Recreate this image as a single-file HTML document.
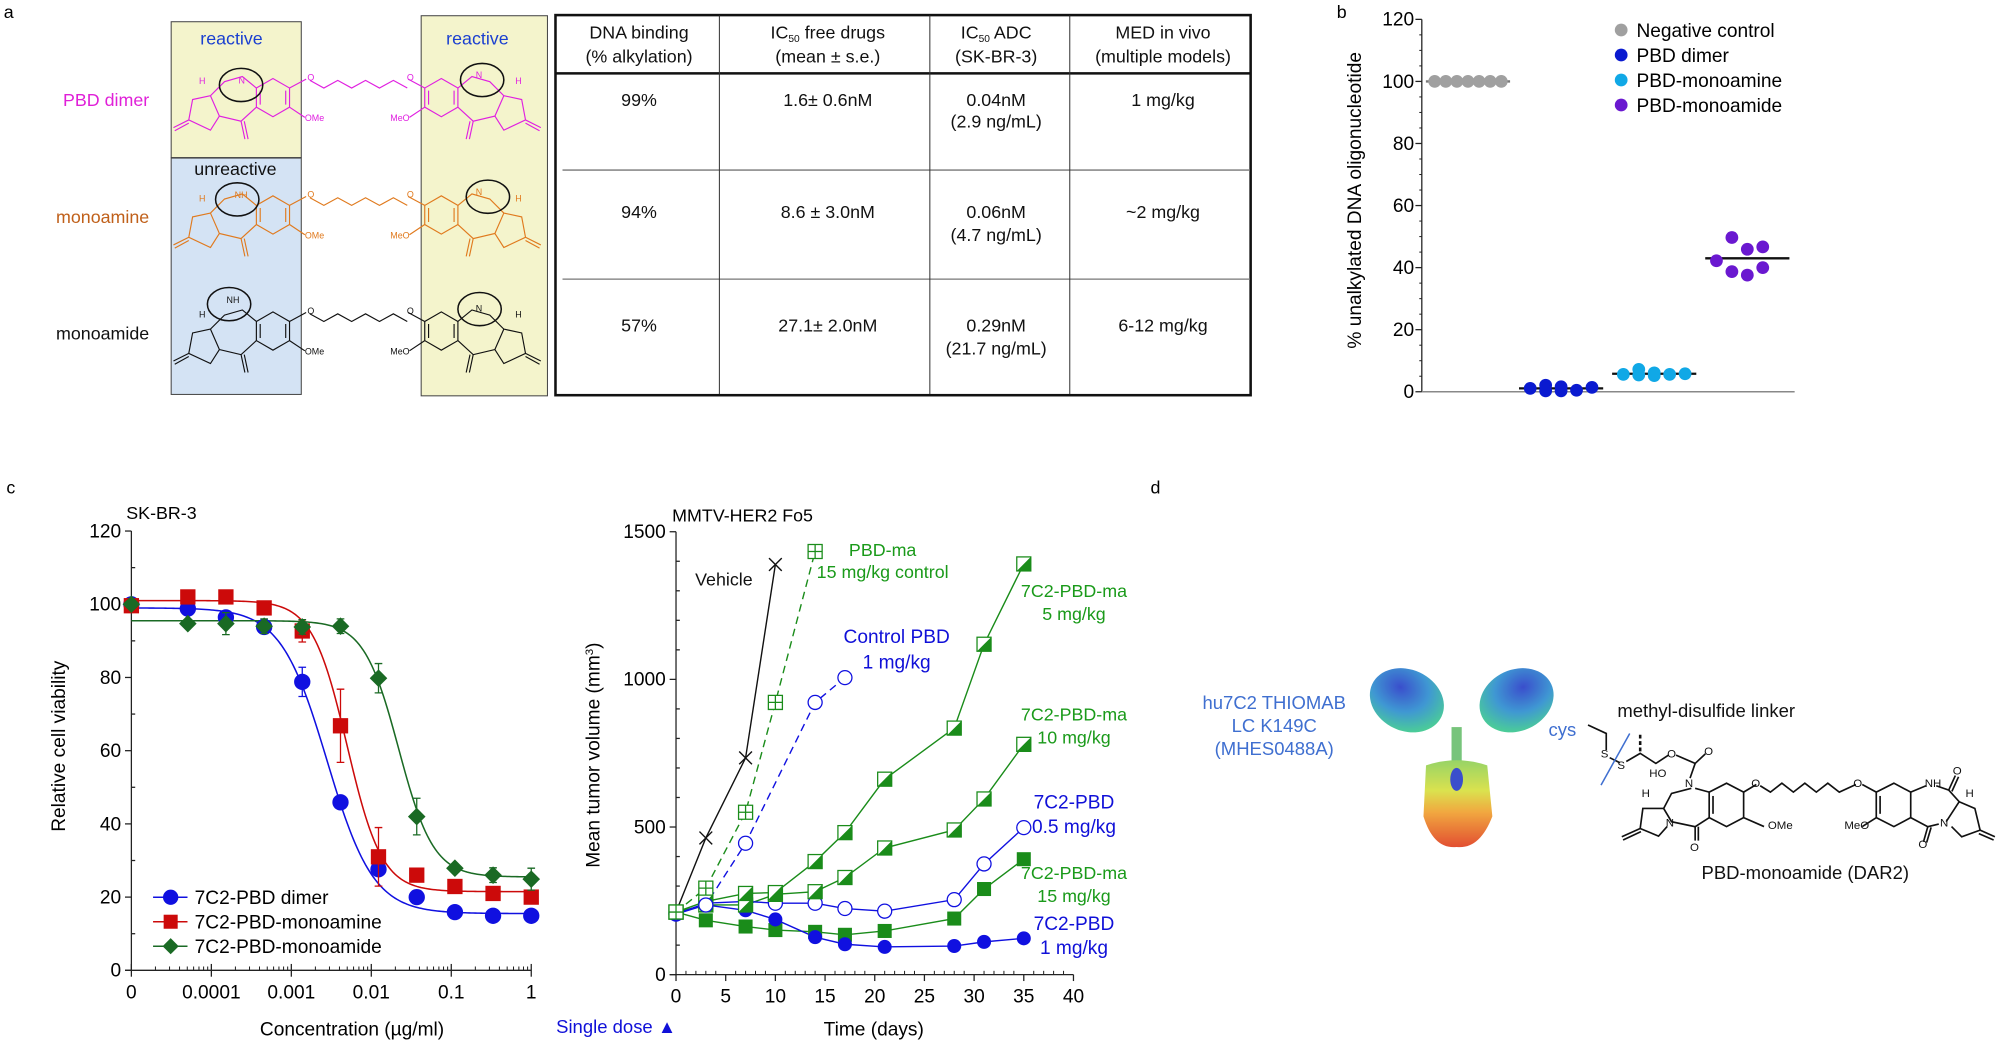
<!DOCTYPE html>
<html><head><meta charset="utf-8">
<style>
html,body{margin:0;padding:0;background:#fff;}
svg{display:block;font-family:"Liberation Sans",Arial,sans-serif;}
</style></head>
<body>
<svg id="fig" width="2000" height="1046" viewBox="0 0 1568 820" xmlns="http://www.w3.org/2000/svg">
<defs>
<radialGradient id="gArmL" cx="0.35" cy="0.35" r="0.7"><stop offset="0" stop-color="#2a40c8"/><stop offset="0.55" stop-color="#2f8fd0"/><stop offset="1" stop-color="#3cc890"/></radialGradient>
<radialGradient id="gArmR" cx="0.65" cy="0.35" r="0.7"><stop offset="0" stop-color="#2a40c8"/><stop offset="0.55" stop-color="#2f8fd0"/><stop offset="1" stop-color="#3cc890"/></radialGradient>
<linearGradient id="gStem" x1="0" y1="0" x2="0" y2="1"><stop offset="0" stop-color="#8fd05a"/><stop offset="0.35" stop-color="#d8e040"/><stop offset="0.6" stop-color="#f0a030"/><stop offset="1" stop-color="#e04020"/></linearGradient>
</defs>

<!-- ============ Panel a ============ -->
<g>
<text x="3" y="14" font-size="14">a</text>
<rect x="134.2" y="17" width="102" height="106.5" fill="#f4f4cc" stroke="#444" stroke-width="0.8"/>
<rect x="134.2" y="123.9" width="102" height="185.3" fill="#d4e3f4" stroke="#444" stroke-width="0.8"/>
<rect x="330.2" y="12.3" width="99" height="298" fill="#f4f4cc" stroke="#444" stroke-width="0.8"/>
<text x="181.5" y="35" font-size="14" fill="#1a3fd0" text-anchor="middle">reactive</text>
<text x="374.3" y="35" font-size="14" fill="#1a3fd0" text-anchor="middle">reactive</text>
<text x="184.6" y="137" font-size="14" fill="#111" text-anchor="middle">unreactive</text>
<text x="117" y="83" font-size="14" fill="#e020d8" text-anchor="end">PBD dimer</text>
<text x="117" y="175" font-size="14" fill="#c0601a" text-anchor="end">monoamine</text>
<text x="117" y="266" font-size="14" fill="#111" text-anchor="end">monoamide</text>
<g id="structs"></g>

<g>
<rect x="435.5" y="11.8" width="545" height="298" fill="none" stroke="#111" stroke-width="2"/>
<line x1="436" y1="57.5" x2="980" y2="57.5" stroke="#111" stroke-width="2"/>
<line x1="441" y1="133.3" x2="980" y2="133.3" stroke="#777" stroke-width="1"/>
<line x1="441" y1="218.8" x2="980" y2="218.8" stroke="#777" stroke-width="1"/>
<line x1="564" y1="12" x2="564" y2="309" stroke="#333" stroke-width="0.8"/>
<line x1="729" y1="12" x2="729" y2="309" stroke="#333" stroke-width="0.8"/>
<line x1="838.7" y1="12" x2="838.7" y2="309" stroke="#333" stroke-width="0.8"/>
<g font-size="14" fill="#111" text-anchor="middle">
<text x="501" y="30">DNA binding</text>
<text x="501" y="49">(% alkylation)</text>
<text x="649" y="30">IC<tspan font-size="8" dy="3">50</tspan><tspan dy="-3"> free drugs</tspan></text>
<text x="649" y="49">(mean ± s.e.)</text>
<text x="781" y="30">IC<tspan font-size="8" dy="3">50</tspan><tspan dy="-3"> ADC</tspan></text>
<text x="781" y="49">(SK-BR-3)</text>
<text x="911.8" y="30">MED in vivo</text>
<text x="911.8" y="49">(multiple models)</text>

<text x="501" y="83">99%</text>
<text x="649" y="83">1.6± 0.6nM</text>
<text x="781" y="83">0.04nM</text>
<text x="781" y="100">(2.9 ng/mL)</text>
<text x="911.8" y="83">1 mg/kg</text>

<text x="501" y="171">94%</text>
<text x="649" y="171">8.6 ± 3.0nM</text>
<text x="781" y="171">0.06nM</text>
<text x="781" y="189">(4.7 ng/mL)</text>
<text x="911.8" y="171">~2 mg/kg</text>

<text x="501" y="260">57%</text>
<text x="649" y="260">27.1± 2.0nM</text>
<text x="781" y="260">0.29nM</text>
<text x="781" y="278">(21.7 ng/mL)</text>
<text x="911.8" y="260">6-12 mg/kg</text>
</g>
</g>
</g>

<!-- ============ Panel b ============ -->
<g id="panelB">
<text x="1048" y="14" font-size="14">b</text>
<text transform="translate(1067,157) rotate(-90)" font-size="15" text-anchor="middle">% unalkylated DNA oligonucleotide</text>
</g>

<!-- ============ Panel c ============ -->
<g id="panelC1">
<text x="5" y="387" font-size="14">c</text>
<text x="99" y="407" font-size="14">SK-BR-3</text>
<text transform="translate(51,585) rotate(-90)" font-size="15" text-anchor="middle">Relative cell viability</text>
<text x="276" y="812" font-size="15" text-anchor="middle">Concentration (µg/ml)</text>
</g>
<g id="panelC2">
<text x="527" y="409" font-size="14">MMTV-HER2 Fo5</text>
<text transform="translate(470,592) rotate(-90)" font-size="15" text-anchor="middle">Mean tumor volume (mm<tspan font-size="9" dy="-5">3</tspan><tspan dy="5">)</tspan></text>
<text x="685" y="812" font-size="15" text-anchor="middle">Time (days)</text>
<text x="436" y="810" font-size="14.5" fill="#1010d8">Single dose ▲</text>
<g font-size="14">
<text x="545" y="459" fill="#111">Vehicle</text>
<text x="692" y="436" fill="#1a9a1a" text-anchor="middle">PBD-ma</text>
<text x="692" y="453" fill="#1a9a1a" text-anchor="middle">15 mg/kg control</text>
<text x="703" y="504" fill="#1010d8" font-size="15" text-anchor="middle">Control PBD</text>
<text x="703" y="524" fill="#1010d8" font-size="15" text-anchor="middle">1 mg/kg</text>
<text x="842" y="468" fill="#1a9a1a" text-anchor="middle">7C2-PBD-ma</text>
<text x="842" y="486" fill="#1a9a1a" text-anchor="middle">5 mg/kg</text>
<text x="842" y="565" fill="#1a9a1a" text-anchor="middle">7C2-PBD-ma</text>
<text x="842" y="583" fill="#1a9a1a" text-anchor="middle">10 mg/kg</text>
<text x="842" y="634" fill="#1010d8" font-size="15" text-anchor="middle">7C2-PBD</text>
<text x="842" y="653" fill="#1010d8" font-size="15" text-anchor="middle">0.5 mg/kg</text>
<text x="842" y="689" fill="#1a9a1a" text-anchor="middle">7C2-PBD-ma</text>
<text x="842" y="707" fill="#1a9a1a" text-anchor="middle">15 mg/kg</text>
<text x="842" y="729" fill="#1010d8" font-size="15" text-anchor="middle">7C2-PBD</text>
<text x="842" y="748" fill="#1010d8" font-size="15" text-anchor="middle">1 mg/kg</text>
</g>
</g>

<!-- ============ Panel d ============ -->
<g>
<text x="902" y="387" font-size="14">d</text>
<g opacity="0.92">
<ellipse cx="1103" cy="549" rx="30" ry="24" transform="rotate(25 1103 549)" fill="url(#gArmL)"/>
<ellipse cx="1189" cy="549" rx="30" ry="24" transform="rotate(-25 1189 549)" fill="url(#gArmR)"/>
<rect x="1138" y="570" width="8" height="32" fill="#6cc070"/>
<path d="M1118 600 Q1142 592 1166 600 L1170 640 Q1160 666 1142 664 Q1124 666 1116 640 Z" fill="url(#gStem)"/>
<ellipse cx="1142" cy="611" rx="5" ry="9" fill="#2a40c8"/>
</g>
<g font-size="14.5" fill="#3f6fd0" text-anchor="middle">
<text x="999" y="556">hu7C2 THIOMAB</text>
<text x="999" y="574">LC K149C</text>
<text x="999" y="592">(MHES0488A)</text>
</g>
<text x="1214" y="577" font-size="14.5" fill="#3f6fd0">cys</text>
<text x="1268" y="562" font-size="14.5" fill="#111">methyl-disulfide linker</text>
<text x="1334" y="689" font-size="14.5" fill="#111">PBD-monoamide (DAR2)</text>
<g id="dStruct" stroke="#111" stroke-width="1.3" fill="none"></g>
</g>
</svg>

<script>
var NS = 'http://www.w3.org/2000/svg';
function mk(parent, tag, attrs, txt){
  var e = document.createElementNS(NS, tag);
  for (var k in attrs) e.setAttribute(k, attrs[k]);
  if (txt !== undefined) e.textContent = txt;
  parent.appendChild(e);
  return e;
}

/* ---------------- Panel b data ---------------- */
var bGroups = ['Negative control','PBD dimer','PBD-monoamine','PBD-monoamide'];
var bColors = ['#a0a0a0','#0a1ad0','#10a8e6','#6a18d0'];
var bNegative = [100,100,100,100,100,100,100];
var bDimer = [1.1,2.1,0.3,1.6,0.3,0.5,1.4];
var bMonoamine = [5.6,7.2,5.4,6.1,5.2,5.6,5.8];
var bMonoamide = [42.2,49.7,38.7,45.9,37.6,46.7,40.0];
var bMeans = [100,1.1,5.8,43];
var bSlotsNeg = [-3,-2,-1,0,1,2,3];
var bSlotsOther = [-2,-1,-1,0,0,1,2];
var bSlotsAmide = [-2,-1,-1,0,0,1,1];
var bTicks = [0,20,40,60,80,100,120];

/* ---------------- Panel c left data ---------------- */
var conc = [0,0.0000508,0.000152,0.000457,0.00137,0.00412,0.0123,0.037,0.111,0.333,1];
var viabDimer = [100,98.8,96.4,93.8,78.8,45.9,27.6,20.0,15.9,14.9,14.9];
var viabMonoamine = [99.6,102,102,99,92.7,66.8,31,26,22.9,21,20];
var viabMonoamide = [100,94.7,94.7,94,93.8,94,79.8,42,27.9,26,24.9];
var errDimer = [0,0,1,1,4,0,1,0,0,0,0];
var errMonoamine = [0,0,0,0,3,10,8,0,0,0,0];
var errMonoamide = [0,0,3,2,2,2,4,5,0,2,3];
var fitDimer = [99,15.5,0.0028,1.5];       // top, bottom, IC50, hill
var fitMonoamine = [101,21.5,0.005,2];
var fitMonoamide = [95.5,25.5,0.022,2];
var cYTicks = [0,20,40,60,80,100,120];
var cXTickVals = [0,0.0001,0.001,0.01,0.1,1];
var cXTickLabels = ['0','0.0001','0.001','0.01','0.1','1'];

/* ---------------- Panel c right data ---------------- */
var daysVeh = [0,3,7,10];
var volVeh = [212,463,734,1389];
var daysCtlMa = [0,3,7,10,14];
var volCtlMa = [212,293,550,922,1433];
var daysCtlPbd = [0,3,7,14,17];
var volCtlPbd = [208,236,445,922,1006];
var daysLong = [0,3,7,10,14,17,21,28,31,35];
var volMa5 = [212,248,275,278,383,481,662,835,1119,1391];
var volMa10 = [212,236,236,272,281,329,429,490,595,780];
var volMa15 = [212,184,163,151,145,135,148,190,290,391];
var volPbd05 = [205,242,248,242,242,224,215,254,375,498];
var volPbd1 = [205,236,218,187,127,103,94,97,111,123];
var tYTicks = [0,500,1000,1500];
var tXTicks = [0,5,10,15,20,25,30,35,40];

/* ================= Panel b ================= */
(function(){
  var g = document.getElementById('panelB');
  var X0 = 1114.7, XE = 1407;
  function yb(v){ return 307.1 - v*2.433; }
  function gx(i){ return 1150.9 + i*73; }
  var ax = mk(g,'line',{x1:X0,y1:yb(0),x2:X0,y2:yb(120),stroke:'#222','stroke-width':1});
  
  
  var bx = mk(g,'line',{x1:X0,y1:yb(0),x2:XE,y2:yb(0),stroke:'#888','stroke-width':1.2});
  
  
  for (var v=0; v<=120; v+=5){
    var major = (v%20===0);
    var t = mk(g,'line',{x1:X0-(major?5:2),y1:yb(v),x2:X0,y2:yb(v),stroke:'#222','stroke-width':major?1:0.8});
    
    
  }
  bTicks.forEach(function(v){
    var t = mk(g,'text',{x:X0-6,y:yb(v)+5,'font-size':15,'text-anchor':'end'},String(v));
    
    
  });
  var series = [bNegative,bDimer,bMonoamine,bMonoamide];
  var slots = [bSlotsNeg,bSlotsOther,bSlotsOther,bSlotsAmide];
  var steps = [8.7,12.1,12.1,12.1];
  series.forEach(function(arr,gi){
    var ln = mk(g,'line',{x1:gx(gi)-33,y1:yb(bMeans[gi]),x2:gx(gi)+33,y2:yb(bMeans[gi]),stroke:gi===0?'#777':'#111','stroke-width':1.8});
    
    
    arr.forEach(function(v,i){
      var c = mk(g,'circle',{cx:gx(gi)+slots[gi][i]*steps[gi],cy:yb(v),r:5,fill:bColors[gi]});
      
      
    });
  });
  bGroups.forEach(function(name,i){
    var y = 23.5 + i*19.6;
    var c = mk(g,'circle',{cx:1271,cy:y,r:5,fill:bColors[i]});
    
    
    var t = mk(g,'text',{x:1283,y:y+5.5,'font-size':15},name);
    
    
  });
})();

/* ================= Panel c left ================= */
(function(){
  var g = document.getElementById('panelC1');
  var X0 = 103, DEC = 62.7;
  function xs(c){ return c<=0 ? X0 : X0 + (Math.log10(c)+5)*DEC; }
  function ys(v){ return 760.7 - v*2.87; }
  var ya = mk(g,'line',{x1:X0,y1:ys(0),x2:X0,y2:ys(120),stroke:'#222','stroke-width':1});
  
  
  var xa = mk(g,'line',{x1:X0-5,y1:ys(0),x2:xs(1),y2:ys(0),stroke:'#222','stroke-width':1});
  
  
  for (var v=0; v<=120; v+=10){
    var major = v%20===0;
    var t = mk(g,'line',{x1:major?X0-5:X0,y1:ys(v),x2:major?X0:X0+3,y2:ys(v),stroke:'#222','stroke-width':1});
    
    
  }
  cYTicks.forEach(function(v){
    var t = mk(g,'text',{x:X0-8,y:ys(v)+5,'font-size':15,'text-anchor':'end'},String(v));
    
    
  });
  cXTickVals.forEach(function(c,i){
    var t = mk(g,'line',{x1:xs(c),y1:ys(0)-5,x2:xs(c),y2:ys(0)+5,stroke:'#222','stroke-width':1});
    
    
    var l = mk(g,'text',{x:xs(c),y:ys(0)+22,'font-size':15,'text-anchor':'middle'},cXTickLabels[i]);
    
    
  });
  for (var d=-5; d<0; d++){
    for (var m=2; m<=9; m++){
      var c = m*Math.pow(10,d);
      var t = mk(g,'line',{x1:xs(c),y1:ys(0)-3,x2:xs(c),y2:ys(0),stroke:'#222','stroke-width':0.8});
      
      
    }
  }
  var sets = [
    {v:viabDimer,e:errDimer,f:fitDimer,col:'#1010e0',m:'circle',name:'dimer'},
    {v:viabMonoamine,e:errMonoamine,f:fitMonoamine,col:'#cc0a0a',m:'square',name:'monoamine'},
    {v:viabMonoamide,e:errMonoamide,f:fitMonoamide,col:'#1a6a24',m:'diamond',name:'monoamide'}
  ];
  function marker(grp,type,x,y,col,s){
    var e;
    if (type==='circle') e = mk(grp,'circle',{cx:x,cy:y,r:s,fill:col});
    else if (type==='square') e = mk(grp,'rect',{x:x-s,y:y-s,width:2*s,height:2*s,fill:col});
    else e = mk(grp,'path',{d:'M'+x+' '+(y-s*1.15)+'L'+(x+s*1.15)+' '+y+'L'+x+' '+(y+s*1.15)+'L'+(x-s*1.15)+' '+y+'Z',fill:col});
    return e;
  }
  sets.forEach(function(s){
    var d='';
    for (var i=0;i<=200;i++){
      var lc = -5 + 5*i/200, c = Math.pow(10,lc);
      var val = s.f[1] + (s.f[0]-s.f[1])/(1+Math.pow(c/s.f[2],s.f[3]));
      d += (i?'L':'M')+xs(c).toFixed(2)+' '+ys(val).toFixed(2);
    }
    var p = mk(g,'path',{d:d,fill:'none',stroke:s.col,'stroke-width':1.2});
    
    
  });
  sets.forEach(function(s){
    s.v.forEach(function(v,i){
      var x = xs(conc[i]);
      if (s.e[i]>0){
        var eb = mk(g,'path',{d:'M'+x+' '+ys(v-s.e[i])+'L'+x+' '+ys(v+s.e[i])+'M'+(x-3)+' '+ys(v-s.e[i])+'L'+(x+3)+' '+ys(v-s.e[i])+'M'+(x-3)+' '+ys(v+s.e[i])+'L'+(x+3)+' '+ys(v+s.e[i]),stroke:s.col,'stroke-width':1,fill:'none'});
        
        
      }
      var m = marker(g,s.m,x,ys(v),s.col,s.m==='circle'?6.4:6);
      
      
    });
  });
  var labels = ['7C2-PBD dimer','7C2-PBD-monoamine','7C2-PBD-monoamide'];
  sets.forEach(function(s,i){
    var y = 703.4 + i*19.2;
    var l = mk(g,'line',{x1:120,y1:y,x2:147,y2:y,stroke:s.col,'stroke-width':1.2});
    
    
    var m = marker(g,s.m,133.8,y,s.col,s.m==='circle'?6:5.5);
    
    
    var t = mk(g,'text',{x:152.6,y:y+5.5,'font-size':15},labels[i]);
    
    
  });
})();

/* ================= Panel c right ================= */
(function(){
  var g = document.getElementById('panelC2');
  function xs(d){ return 530 + d*7.79; }
  function ys(v){ return 764.1 - v*0.2315; }
  var ya = mk(g,'line',{x1:xs(0),y1:ys(0),x2:xs(0),y2:ys(1500),stroke:'#222','stroke-width':1});
  
  
  var xa = mk(g,'line',{x1:xs(0)-5,y1:ys(0),x2:xs(40),y2:ys(0),stroke:'#222','stroke-width':1});
  
  
  for (var v=0; v<=1500; v+=100){
    var major = v%500===0;
    var t = mk(g,'line',{x1:major?xs(0)-5:xs(0),y1:ys(v),x2:major?xs(0):xs(0)+3,y2:ys(v),stroke:'#222','stroke-width':1});
    
    
  }
  tYTicks.forEach(function(v){
    var t = mk(g,'text',{x:xs(0)-8,y:ys(v)+5,'font-size':15,'text-anchor':'end'},String(v));
    
    
  });
  for (var d=0; d<=40; d++){
    var major = d%5===0;
    var t = mk(g,'line',{x1:xs(d),y1:ys(0)-(major?0:3),x2:xs(d),y2:ys(0)+(major?5:0),stroke:'#222','stroke-width':major?1:0.8});
    
    
  }
  tXTicks.forEach(function(d){
    var t = mk(g,'text',{x:xs(d),y:ys(0)+22,'font-size':15,'text-anchor':'middle'},String(d));
    
    
  });
  var GREEN = '#1a8c1a', BLUE = '#1010e0';
  function line(days, vals, col, dash, name){
    var d='';
    days.forEach(function(t,i){ d += (i?'L':'M')+xs(t)+' '+ys(vals[i]); });
    var p = mk(g,'path',{d:d,fill:'none',stroke:col,'stroke-width':1.1,'stroke-dasharray':dash||'none'});
    
    
  }
  function mark(type, x, y, name){
    var s = 5.5, e;
    if (type==='x'){
      e = mk(g,'path',{d:'M'+(x-5)+' '+(y-5)+'L'+(x+5)+' '+(y+5)+'M'+(x-5)+' '+(y+5)+'L'+(x+5)+' '+(y-5),stroke:'#111','stroke-width':1.1,fill:'none'});
    } else if (type==='grid'){
      e = mk(g,'path',{d:'M'+(x-s)+' '+(y-s)+'h'+2*s+'v'+2*s+'h'+(-2*s)+'Z M'+x+' '+(y-s)+'v'+2*s+'M'+(x-s)+' '+y+'h'+2*s,stroke:GREEN,'stroke-width':1,fill:'#fff'});
    } else if (type==='ocircle'){
      e = mk(g,'circle',{cx:x,cy:y,r:s,fill:'#fff',stroke:BLUE,'stroke-width':1});
    } else if (type==='fcircle'){
      e = mk(g,'circle',{cx:x,cy:y,r:s,fill:BLUE});
    } else if (type==='fsquare'){
      e = mk(g,'rect',{x:x-s,y:y-s,width:2*s,height:2*s,fill:GREEN});
    } else {
      e = mk(g,'g',{});
      mk(e,'rect',{x:x-s,y:y-s,width:2*s,height:2*s,fill:'#fff',stroke:GREEN,'stroke-width':1});
      mk(e,'path',{d:'M'+(x+s)+' '+(y-s)+'L'+(x+s)+' '+(y+s)+'L'+(x-s)+' '+(y+s)+'Z',fill:GREEN});
    }
    
    
  }
  line(daysVeh,volVeh,'#111',null,'vehicle');
  line(daysCtlMa,volCtlMa,GREEN,'6 4','pbd-ma-control');
  line(daysCtlPbd,volCtlPbd,BLUE,'6 4','control-pbd');
  line(daysLong,volMa5,GREEN,null,'ma-5');
  line(daysLong,volMa10,GREEN,null,'ma-10');
  line(daysLong,volMa15,GREEN,null,'ma-15');
  line(daysLong,volPbd05,BLUE,null,'pbd-05');
  line(daysLong,volPbd1,BLUE,null,'pbd-1');
  daysLong.forEach(function(t,i){ mark('fsquare',xs(t),ys(volMa15[i]),'ma-15'); });
  daysLong.forEach(function(t,i){ mark('fcircle',xs(t),ys(volPbd1[i]),'pbd-1'); });
  daysLong.forEach(function(t,i){ mark('ocircle',xs(t),ys(volPbd05[i]),'pbd-05'); });
  daysLong.forEach(function(t,i){ mark('half',xs(t),ys(volMa10[i]),'ma-10'); });
  daysLong.forEach(function(t,i){ mark('half',xs(t),ys(volMa5[i]),'ma-5'); });
  daysCtlPbd.forEach(function(t,i){ mark('ocircle',xs(t),ys(volCtlPbd[i]),'control-pbd'); });
  daysCtlMa.forEach(function(t,i){ mark('grid',xs(t),ys(volCtlMa[i]),'pbd-ma-control'); });
  daysVeh.forEach(function(t,i){ if(i>0) mark('x',xs(t),ys(volVeh[i]),'vehicle'); });
})();

/* ================= Panel a structures ================= */
(function(){
  var g = document.getElementById('structs');
  var rows = [
    {dy:0,col:'#e020e0',cl:[189,66.6],cr:[378,62.7],lab:'N'},
    {dy:92,col:'#e07a1e',cl:[186,156.3],cr:[382.5,154.2],lab:'NH'},
    {dy:183,col:'#111',cl:[179.6,238.4],cr:[376,242.3],lab:'NH'}
  ];
  var half = [
    [[201,62],[214,54.5],[227,62],[227,77],[214,84.5],[201,77],[201,62]],
    [[201,62],[190,53],[176,57],[165,68],[172,84],[189,88],[201,77]],
    [[165,68],[151,71],[148,87],[165,95],[172,84]],
    [[189,88],[192,102]],
    [[148,87],[136,93]],
    [[227,62],[240,55]],
    [[227,77],[239,85]]
  ];
  var dbl = [
    [[148,89.5],[137,95.5]],
    [[191.5,88],[194.5,102]],
    [[204,64],[204,75]],
    [[224,64],[224,75]]
  ];
  function pathOf(pts, dy, mirror){
    return pts.map(function(p,i){ var x = mirror? 560-p[0] : p[0]; return (i?'L':'M')+x+' '+(p[1]+dy); }).join('');
  }
  rows.forEach(function(r,ri){
    [false,true].forEach(function(mir){
      var d = half.concat(dbl).map(function(pts){ return pathOf(pts,r.dy+7,mir); }).join('');
      var p = mk(g,'path',{d:d,fill:'none',stroke:r.col,'stroke-width':0.9});
      
      
    });
    var ch = '';
    for (var i=0;i<8;i++){ ch += (i?'L':'M')+(243+i*10.9)+' '+(r.dy+(i%2?69:63)); }
    var c = mk(g,'path',{d:ch,fill:'none',stroke:r.col,'stroke-width':0.9});
    
    
    var lbls = [[241,r.dy+63,'O'],[319,r.dy+63,'O'],[239,r.dy+95,'OMe'],[306,r.dy+95,'MeO'],[r.cl[0]-2,r.cl[1]-1,r.lab],[373,r.dy+61,'N'],[156,r.dy+66,'H'],[404,r.dy+66,'H']];
    lbls.forEach(function(l){
      var t = mk(g,'text',{x:l[0],y:l[1],'font-size':7,fill:r.col},l[2]);
      
      
    });
    [r.cl,r.cr].forEach(function(cc){
      var e = mk(g,'ellipse',{cx:cc[0],cy:cc[1],rx:17,ry:13,fill:'none',stroke:'#111','stroke-width':1.2});
      
      
    });
  });
})();

/* ================= Panel d structure ================= */
(function(){
  var g = document.getElementById('dStruct');
  var segs = [
    [[1245,568.4],[1259.3,575],[1259.3,588]],
    [[1262,594],[1270,598]],
    [[1275,597],[1285.9,590.6],[1298.2,598.5],[1308,592]],
    [[1314,592],[1329,598.5],[1337,591]],
    [[1329,598.5],[1325,610]],
    [[1326,618],[1310.5,622],[1304.3,633.8],[1310.5,644.2],[1329,648.1],[1340,641]],
    [[1329,618],[1340,621]],
    [[1304.3,633.8],[1288,633.8],[1285.9,649.5],[1300.3,655.5],[1307,648]],
    [[1285.9,649.5],[1271.5,656]],[[1286.5,652],[1272.5,658.5]],
    [[1329,648.1],[1329,659]],[[1331.5,648.1],[1331.5,659]],
    [[1340,621],[1353.6,614],[1367,621],[1367,641],[1353.6,648],[1340,641],[1340,621]],
    [[1367,621],[1377,615]],[[1367,641],[1383,648]],
    [[1380,616],[1388,621],[1397,614],[1406,621],[1415,614],[1424,621],[1433,614],[1442,621],[1455,615]],
    [[1471,621],[1484.8,614],[1498,621],[1498,641],[1484.8,648],[1471,641],[1471,621]],
    [[1471,621],[1460,615]],[[1471,641],[1460,648]],
    [[1498,621],[1510,616]],[[1518,616],[1527.8,619.4],[1536,628.5],[1525.8,644.2]],
    [[1527.8,619.4],[1533,608]],[[1530.3,620.4],[1535.5,609]],
    [[1498,641],[1511.4,648.1],[1520,646]],[[1511.4,648.1],[1508,660]],[[1514,648.6],[1510.5,660.5]],
    [[1536,628.5],[1548.3,633.8],[1552.4,650.8],[1538,656],[1530,648]],
    [[1552.4,650.8],[1564,656]],[[1551.4,653.5],[1563,658.5]],
    [[1343,624],[1343,638]],[[1474,624],[1474,638]]
  ];
  segs.forEach(function(pts){
    var d = pts.map(function(p,i){ return (i?'L':'M')+p[0]+' '+p[1]; }).join('');
    var p = mk(g,'path',{d:d});
    
    
  });
  var dash = mk(g,'path',{d:'M1285.9 576v3M1285.9 581v3M1285.9 586v3','stroke-width':2});
  
  
  var slash = mk(g,'line',{x1:1277.7,y1:575,x2:1255.2,y2:615.5,stroke:'#3f6fd0','stroke-width':1.2});
  
  
  var atoms = [[1255,594,'S'],[1268,603,'S'],[1307,594,'O'],[1336,592,'O'],[1321,617,'N'],[1293,609,'HO'],[1287,625,'H'],[1306,648,'N'],[1325,667,'O'],[1386,650,'OMe'],[1446,650,'MeO'],[1373,617,'O'],[1453,617,'O'],[1509,617,'NH'],[1531,607,'O'],[1541,625,'H'],[1521,648,'N'],[1504,665,'O']];
  atoms.forEach(function(a){
    var t = mk(g,'text',{x:a[0],y:a[1],'font-size':9,fill:'#111',stroke:'none'},a[2]);
    
    
  });
})();
</script>
</body></html>
